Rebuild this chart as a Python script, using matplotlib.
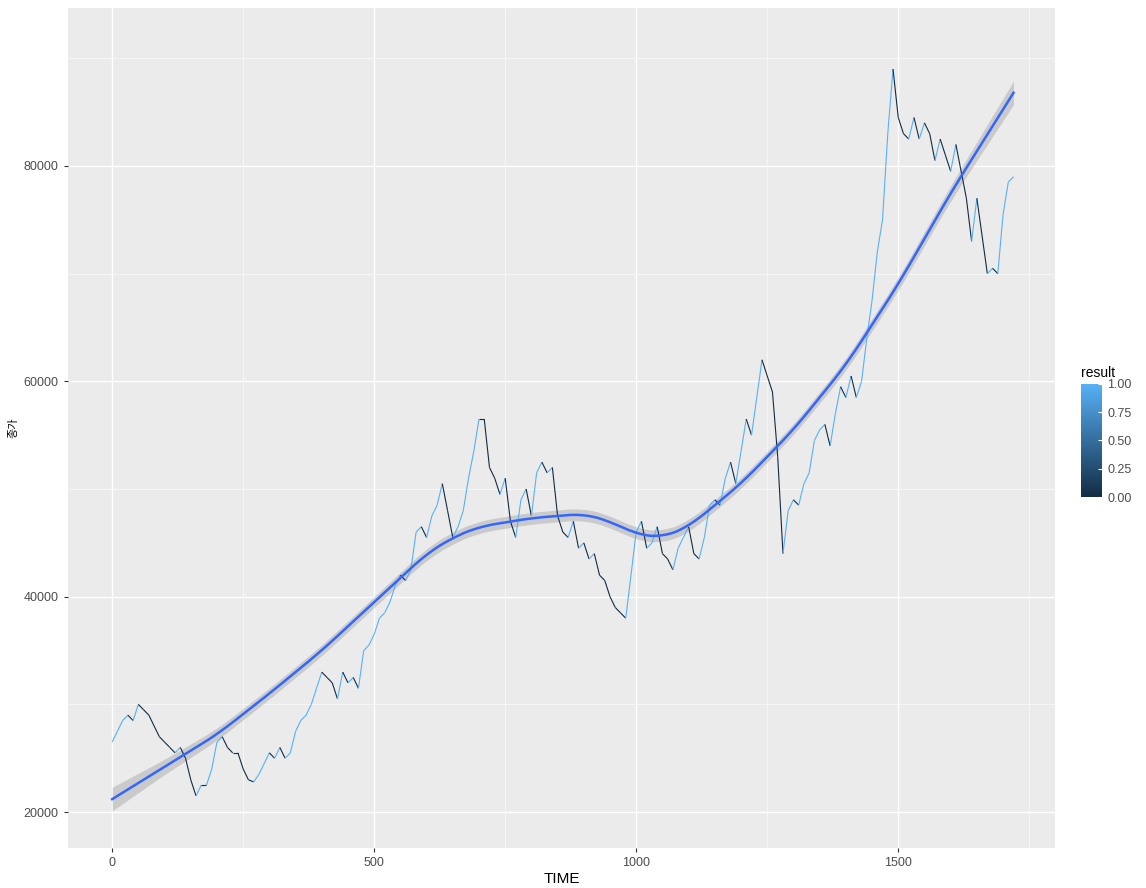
import numpy as np
import matplotlib.pyplot as plt
from matplotlib.collections import LineCollection
from matplotlib.colors import LinearSegmentedColormap
from matplotlib.ticker import MultipleLocator

plt.rcParams['font.family'] = ['Liberation Sans', 'Noto Sans CJK KR']

# --- price trace (read every 10 steps) ---
time = np.arange(0, 1730, 10)
close = [26500, 27500, 28500, 29000, 28500, 30000, 29500, 29000, 28000, 27000,
         26500, 26000, 25500, 26000, 25000, 23000, 21500, 22500, 22500, 24000,
         26500, 27000, 26000, 25500, 25500, 24000, 23000, 22800, 23500, 24500,
         25500, 25000, 26000, 25000, 25500, 27500, 28500, 29000, 30000, 31500,
         33000, 32500, 32000, 30500, 33000, 32000, 32500, 31500, 35000, 35500,
         36500, 38000, 38500, 39500, 41000, 42000, 41500, 42500, 46000, 46500,
         45500, 47500, 48500, 50500, 48000, 45500, 46500, 48000, 51000, 53500,
         56500, 56500, 52000, 51000, 49500, 51000, 47000, 45500, 49000, 50000,
         47500, 51500, 52500, 51500, 52000, 47500, 46000, 45500, 47000, 44500,
         45000, 43500, 44000, 42000, 41500, 40000, 39000, 38500, 38000, 42000,
         46000, 47000, 44500, 45000, 46500, 44000, 43500, 42500, 44500, 45500,
         46500, 44000, 43500, 45500, 48500, 49000, 48500, 51000, 52500, 50500,
         53500, 56500, 55000, 58500, 62000, 60500, 59000, 53000, 44000, 48000,
         49000, 48500, 50500, 51500, 54500, 55500, 56000, 54000, 57000, 59500,
         58500, 60500, 58500, 60000, 64000, 67500, 72000, 75000, 83000, 89000,
         84500, 83000, 82500, 84500, 82500, 84000, 83000, 80500, 82500, 81000,
         79500, 82000, 79500, 77000, 73000, 77000, 73500, 70000, 70500, 70000,
         75500, 78500, 79000]
close = np.array(close)
result = np.append((np.diff(close) > 0).astype(float), 0)

# --- smooth (gam) curve ---
smooth_t = [0, 100, 200, 300, 400, 500, 600, 650, 700, 800, 900, 950, 1000,
            1050, 1100, 1200, 1300, 1400, 1500, 1600, 1720]
smooth_y = [21200, 24200, 27200, 31000, 35000, 39500, 44000, 45500, 46500, 47300,
            47700, 47000, 45800, 45500, 46500, 50500, 55500, 61500, 69000, 77500, 86800]
smooth_se = [1100, 700, 550, 500, 500, 500, 550, 550, 550, 550,
             550, 550, 550, 550, 550, 500, 500, 550, 600, 700, 1100]

cmap = LinearSegmentedColormap.from_list('gg', ['#132B43', '#56B1F7'])

fig = plt.figure(figsize=(11.46, 8.88), dpi=100)
ax = fig.add_axes([0.059, 0.045, 0.862, 0.946])
ax.set_facecolor('#EBEBEB')
for s in ax.spines.values():
    s.set_visible(False)

pts = np.column_stack([time, close]).reshape(-1, 1, 2)
segs = np.concatenate([pts[:-1], pts[1:]], axis=1)
lc = LineCollection(segs, cmap=cmap, linewidths=0.8)
lc.set_array(result[:-1])
lc.set_clim(0, 1)
ax.add_collection(lc)

# soften the corners of the read-off curve
st = np.linspace(0, 1720, 400)
sy = np.interp(st, smooth_t, smooth_y)
se = np.interp(st, smooth_t, smooth_se)
k = np.ones(15) / 15
pad = lambda a: np.concatenate([2 * a[0] - a[7:0:-1], a, 2 * a[-1] - a[-2:-9:-1]])
sy = np.convolve(pad(sy), k, mode='valid')
se = np.convolve(pad(se), k, mode='valid')
ax.fill_between(st, sy - se, sy + se, color='#999999', alpha=0.4, lw=0)
ax.plot(st, sy, color='#3366FF', lw=1.8)

ax.set_xlim(-85, 1800)
ax.set_ylim(16660, 94670)
ax.xaxis.set_major_locator(MultipleLocator(500))
ax.xaxis.set_minor_locator(MultipleLocator(250))
ax.yaxis.set_major_locator(MultipleLocator(20000))
ax.yaxis.set_minor_locator(MultipleLocator(10000))
ax.grid(which='major', color='white', lw=1.0)
ax.grid(which='minor', color='white', lw=0.4)
ax.set_axisbelow(True)
ax.tick_params(which='both', length=3, color='#333333', labelcolor='#4D4D4D', labelsize=9)
ax.tick_params(which='minor', length=0)
ax.set_xlabel('TIME', fontsize=11, labelpad=2)
ax.set_ylabel('종가', fontsize=8, labelpad=4)

cax = fig.add_axes([0.943, 0.44, 0.019, 0.128])
cb = fig.colorbar(lc, cax=cax, ticks=[0, 0.25, 0.5, 0.75, 1])
cb.ax.set_yticklabels(['0.00', '0.25', '0.50', '0.75', '1.00'])
cb.outline.set_visible(False)
cb.ax.tick_params(labelsize=9, length=3, color='white', labelcolor='#4D4D4D', direction='in')
cax.set_title('result', fontsize=10, loc='left', pad=5)

fig.savefig('out.png', dpi=100)
